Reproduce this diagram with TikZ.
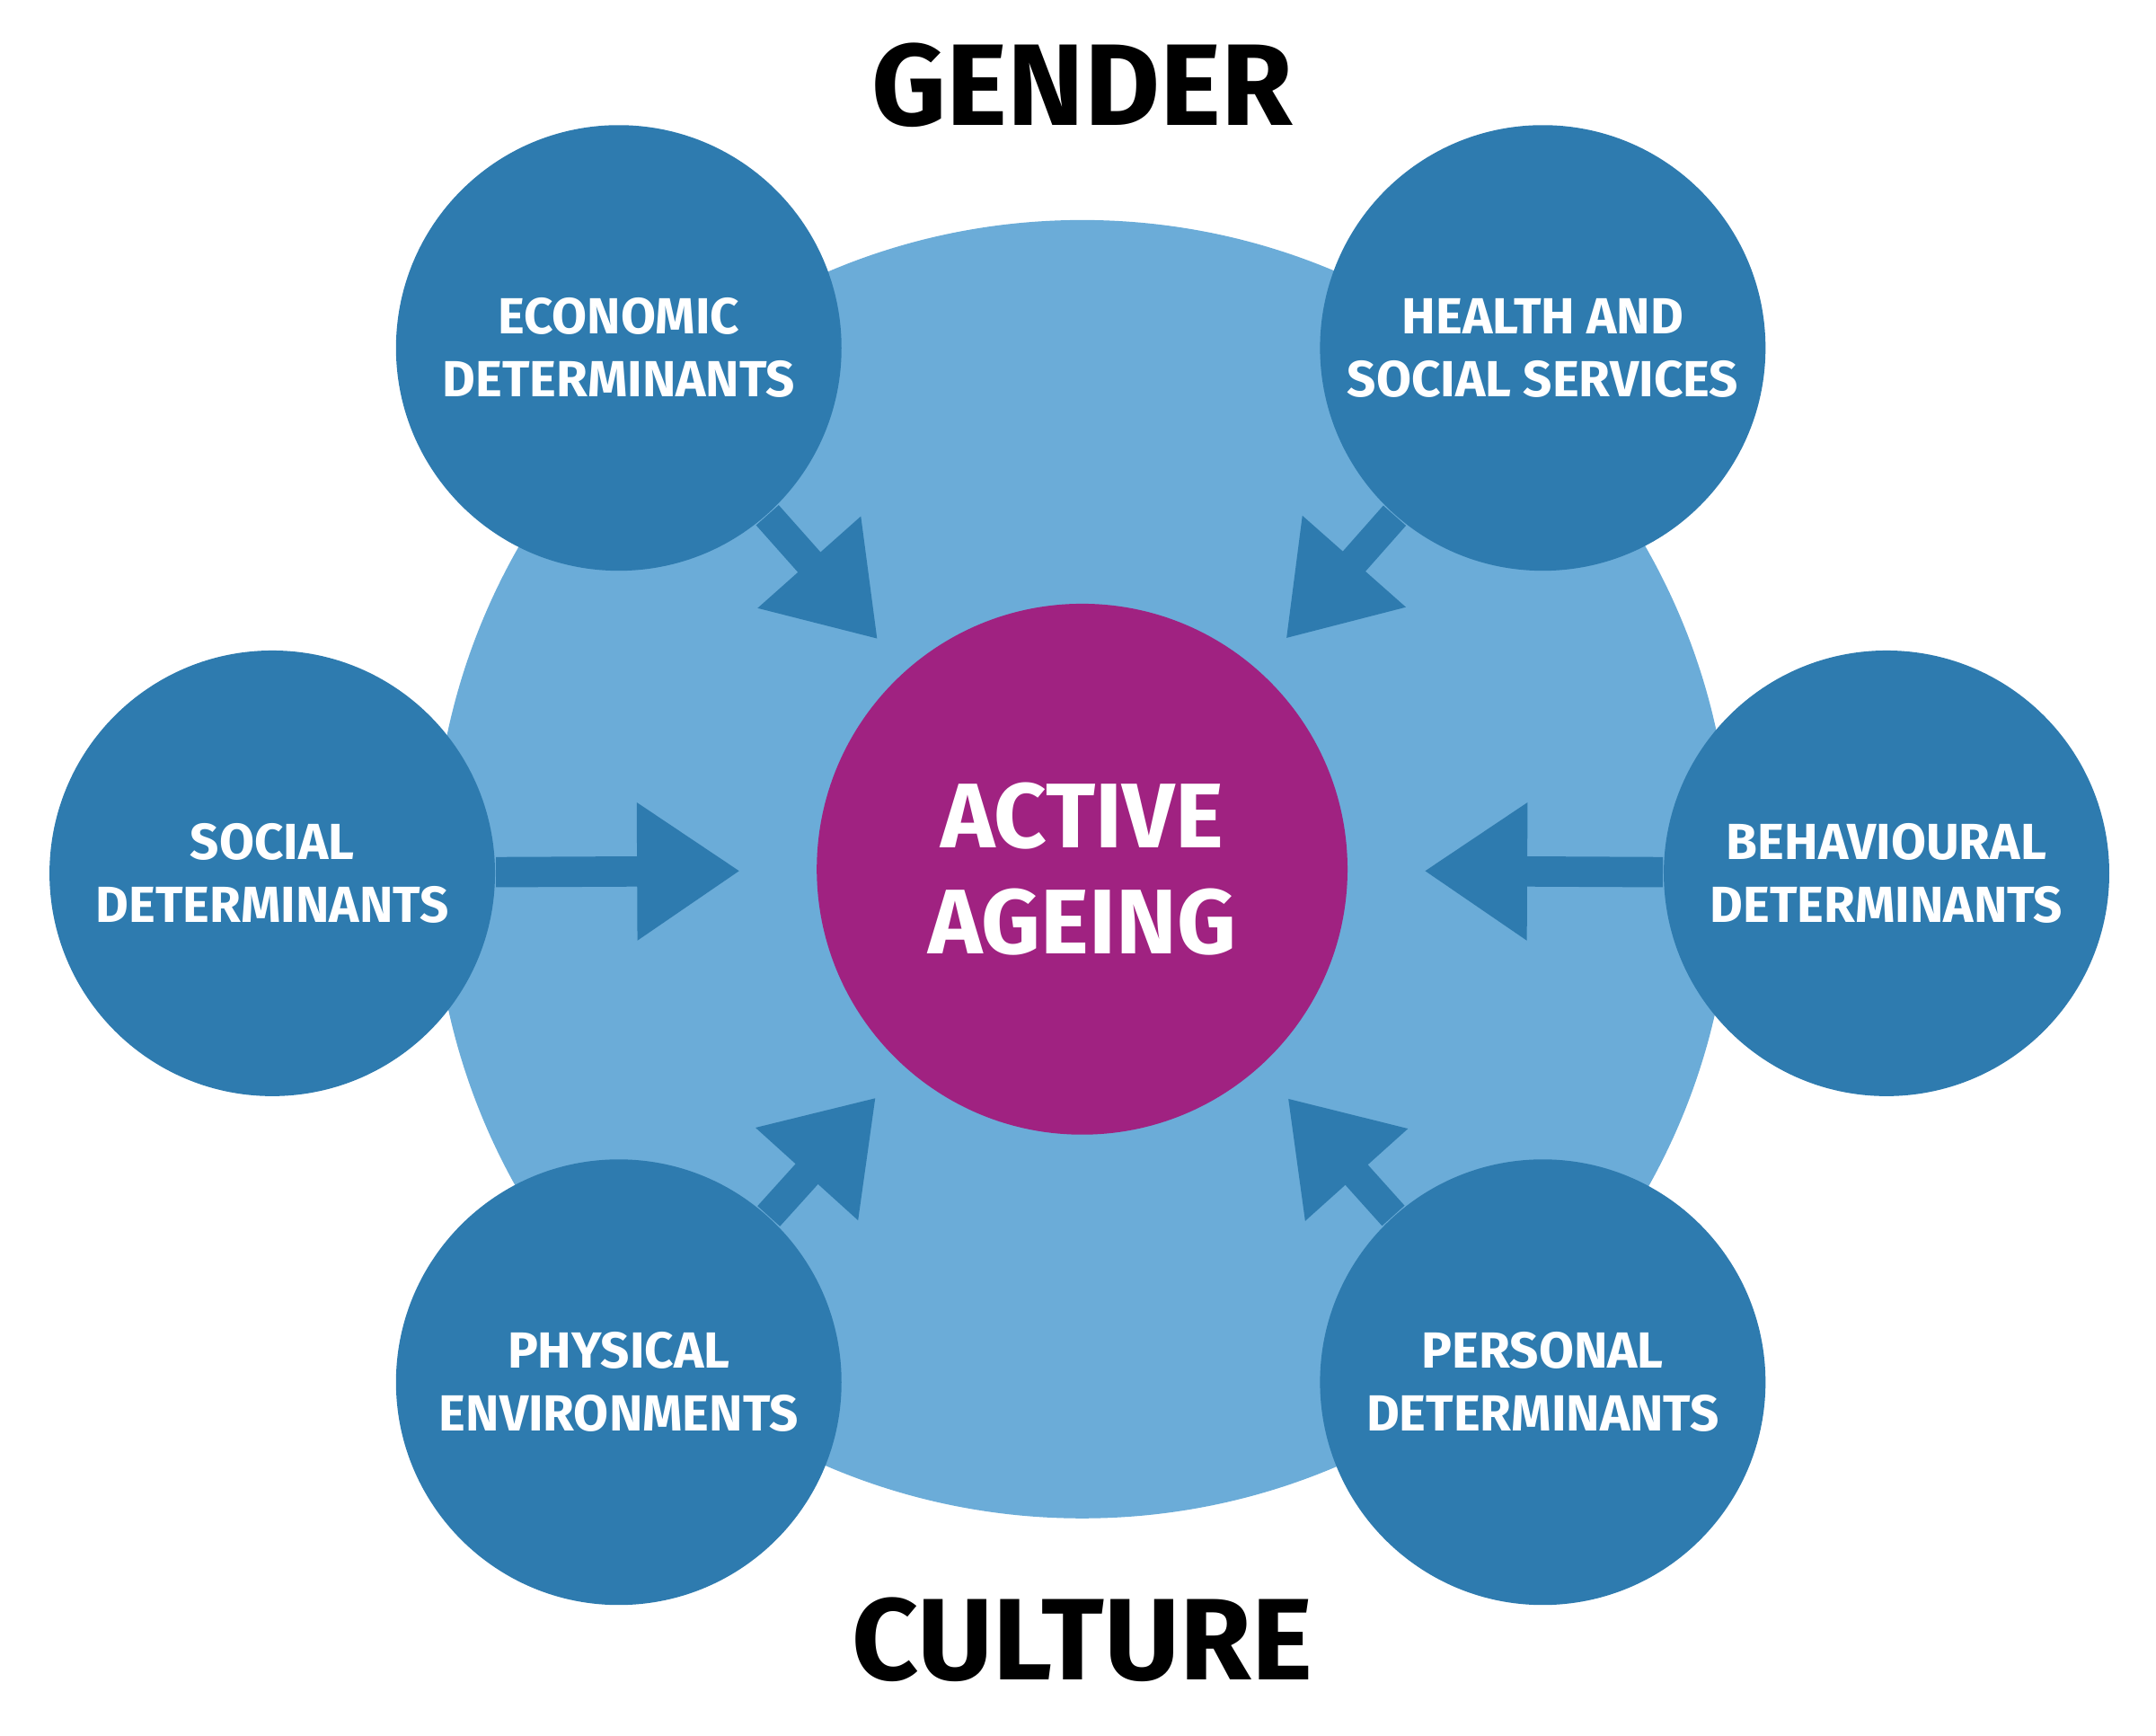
\documentclass[tikz,border=0pt]{standalone}
\usepackage{fontspec}
\setmainfont{Fira Sans}
\usetikzlibrary{arrows.meta}
\definecolor{ringblue}{HTML}{6BACD8}
\definecolor{darkblue}{HTML}{2E7BAF}
\definecolor{activepurple}{HTML}{A02281}
\begin{document}
\begin{tikzpicture}[x=1cm,y=1cm]
\tikzstyle{factor}=[circle,fill=darkblue,minimum size=3.24cm,inner sep=0pt,
  text=white,align=center,font=\bfseries\fontsize{10.5}{13}\selectfont]
\tikzstyle{push}=[darkblue,line width=0.22cm,
  -{Triangle[length=0.75cm,width=0.95cm]}]
\useasboundingbox (0,0) rectangle (15.68,12.62);
\fill[ringblue] (7.87,6.30) circle (4.72);
\node[circle,fill=activepurple,minimum size=3.86cm,inner sep=0pt,text=white,
  align=center,font=\bfseries\fontsize{19}{22}\selectfont] (act) at (7.87,6.30) {ACTIVE\\AGEING};
\node[factor] (eco) at (4.50,10.09) {ECONOMIC\\DETERMINANTS};
\node[factor] (hss) at (11.22,10.09) {HEALTH AND\\SOCIAL SERVICES};
\node[factor] (soc) at (1.98,6.27) {SOCIAL\\DETERMINANTS};
\node[factor] (beh) at (13.72,6.27) {BEHAVIOURAL\\DETERMINANTS};
\node[factor] (phy) at (4.50,2.57) {PHYSICAL\\ENVIRONMENTS};
\node[factor] (per) at (11.22,2.57) {PERSONAL\\DETERMINANTS};
\node[font=\bfseries\fontsize{24}{28}\selectfont] (gender) at (7.87,12.00) {GENDER};
\node[font=\bfseries\fontsize{24}{28}\selectfont] (culture) at (7.87,0.70) {CULTURE};
% arrows towards the centre
\draw[push,shorten >=0.3cm] (eco) -- (act);
\draw[push,shorten >=0.3cm] (hss) -- (act);
\draw[push,shorten >=0.55cm] (soc) -- (act);
\draw[push,shorten >=0.55cm] (beh) -- (act);
\draw[push,shorten >=0.3cm] (phy) -- (act);
\draw[push,shorten >=0.3cm] (per) -- (act);
\end{tikzpicture}
\end{document}
